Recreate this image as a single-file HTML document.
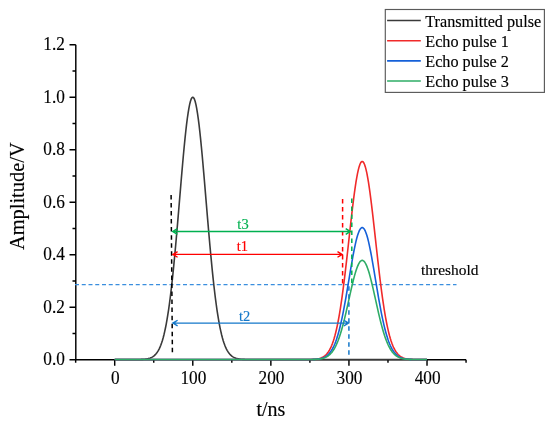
<!DOCTYPE html><html><head><meta charset="utf-8"><style>html,body{margin:0;padding:0;background:#fff;width:550px;height:423px;overflow:hidden}svg{display:block}text{stroke:#000;stroke-width:0.15px}</style></head><body><svg width="550" height="423" viewBox="0 0 550 423"><rect width="550" height="423" fill="#fff"/><path d="M75.8,44.75 L75.8,359.75 M75.1,359.75 L466.1,359.75 M69.50,359.75 L75.8,359.75 M72.50,333.50 L75.8,333.50 M69.50,307.25 L75.8,307.25 M72.50,281.00 L75.8,281.00 M69.50,254.75 L75.8,254.75 M72.50,228.50 L75.8,228.50 M69.50,202.25 L75.8,202.25 M72.50,176.00 L75.8,176.00 M69.50,149.75 L75.8,149.75 M72.50,123.50 L75.8,123.50 M69.50,97.25 L75.8,97.25 M72.50,71.00 L75.8,71.00 M69.50,44.75 L75.8,44.75 M75.66,359.75 L75.66,362.75 M114.70,359.75 L114.70,365.75 M153.74,359.75 L153.74,362.75 M192.78,359.75 L192.78,365.75 M231.82,359.75 L231.82,362.75 M270.86,359.75 L270.86,365.75 M309.90,359.75 L309.90,362.75 M348.94,359.75 L348.94,365.75 M387.98,359.75 L387.98,362.75 M427.02,359.75 L427.02,365.75 M466.06,359.75 L466.06,362.75" fill="none" stroke="#000" stroke-width="1.45"/><line x1="75" y1="284.65" x2="456.5" y2="284.65" stroke="#3a8ede" stroke-width="1.3" stroke-dasharray="4 2.75"/><path d="M114.70,359.55 L115.48,359.55 L116.26,359.55 L117.04,359.55 L117.82,359.55 L118.60,359.55 L119.38,359.55 L120.17,359.55 L120.95,359.55 L121.73,359.55 L122.51,359.55 L123.29,359.55 L124.07,359.55 L124.85,359.55 L125.63,359.55 L126.41,359.55 L127.19,359.55 L127.97,359.55 L128.75,359.55 L129.54,359.55 L130.32,359.55 L131.10,359.54 L131.88,359.54 L132.66,359.54 L133.44,359.54 L134.22,359.53 L135.00,359.53 L135.78,359.52 L136.56,359.52 L137.34,359.51 L138.12,359.50 L138.90,359.48 L139.69,359.46 L140.47,359.44 L141.25,359.41 L142.03,359.37 L142.81,359.33 L143.59,359.28 L144.37,359.21 L145.15,359.13 L145.93,359.03 L146.71,358.91 L147.49,358.77 L148.27,358.60 L149.06,358.40 L149.84,358.15 L150.62,357.86 L151.40,357.52 L152.18,357.11 L152.96,356.64 L153.74,356.08 L154.52,355.43 L155.30,354.68 L156.08,353.81 L156.86,352.81 L157.64,351.66 L158.42,350.34 L159.21,348.84 L159.99,347.15 L160.77,345.23 L161.55,343.08 L162.33,340.67 L163.11,337.98 L163.89,334.99 L164.67,331.68 L165.45,328.04 L166.23,324.04 L167.01,319.68 L167.79,314.94 L168.58,309.80 L169.36,304.26 L170.14,298.32 L170.92,291.97 L171.70,285.23 L172.48,278.09 L173.26,270.57 L174.04,262.70 L174.82,254.50 L175.60,245.99 L176.38,237.22 L177.16,228.23 L177.94,219.06 L178.73,209.78 L179.51,200.43 L180.29,191.08 L181.07,181.80 L181.85,172.65 L182.63,163.71 L183.41,155.05 L184.19,146.75 L184.97,138.88 L185.75,131.51 L186.53,124.70 L187.31,118.52 L188.10,113.04 L188.88,108.31 L189.66,104.36 L190.44,101.25 L191.22,99.01 L192.00,97.65 L192.78,97.20 L193.56,97.65 L194.34,99.01 L195.12,101.25 L195.90,104.36 L196.68,108.31 L197.46,113.04 L198.25,118.52 L199.03,124.70 L199.81,131.51 L200.59,138.88 L201.37,146.75 L202.15,155.05 L202.93,163.71 L203.71,172.65 L204.49,181.80 L205.27,191.08 L206.05,200.43 L206.83,209.78 L207.62,219.06 L208.40,228.23 L209.18,237.22 L209.96,245.99 L210.74,254.50 L211.52,262.70 L212.30,270.57 L213.08,278.09 L213.86,285.23 L214.64,291.97 L215.42,298.32 L216.20,304.26 L216.98,309.80 L217.77,314.94 L218.55,319.68 L219.33,324.04 L220.11,328.04 L220.89,331.68 L221.67,334.99 L222.45,337.98 L223.23,340.67 L224.01,343.08 L224.79,345.23 L225.57,347.15 L226.35,348.84 L227.14,350.34 L227.92,351.66 L228.70,352.81 L229.48,353.81 L230.26,354.68 L231.04,355.43 L231.82,356.08 L232.60,356.64 L233.38,357.11 L234.16,357.52 L234.94,357.86 L235.72,358.15 L236.50,358.40 L237.29,358.60 L238.07,358.77 L238.85,358.91 L239.63,359.03 L240.41,359.13 L241.19,359.21 L241.97,359.28 L242.75,359.33 L243.53,359.37 L244.31,359.41 L245.09,359.44 L245.87,359.46 L246.66,359.48 L247.44,359.50 L248.22,359.51 L249.00,359.52 L249.78,359.52 L250.56,359.53 L251.34,359.53 L252.12,359.54 L252.90,359.54 L253.68,359.54 L254.46,359.54 L255.24,359.55 L256.02,359.55 L256.81,359.55 L257.59,359.55 L258.37,359.55 L259.15,359.55 L259.93,359.55 L260.71,359.55 L261.49,359.55 L262.27,359.55 L263.05,359.55 L263.83,359.55 L264.61,359.55 L265.39,359.55 L266.18,359.55 L266.96,359.55 L267.74,359.55 L268.52,359.55 L269.30,359.55 L270.08,359.55 L270.86,359.55 L271.64,359.55 L272.42,359.55 L273.20,359.55 L273.98,359.55 L274.76,359.55 L275.54,359.55 L276.33,359.55 L277.11,359.55 L277.89,359.55 L278.67,359.55 L279.45,359.55 L280.23,359.55 L281.01,359.55 L281.79,359.55 L282.57,359.55 L283.35,359.55 L284.13,359.55 L284.91,359.55 L285.70,359.55 L286.48,359.55 L287.26,359.55 L288.04,359.55 L288.82,359.55 L289.60,359.55 L290.38,359.55 L291.16,359.55 L291.94,359.55 L292.72,359.55 L293.50,359.55 L294.28,359.55 L295.06,359.55 L295.85,359.55 L296.63,359.55 L297.41,359.55 L298.19,359.55 L298.97,359.55 L299.75,359.55 L300.53,359.55 L301.31,359.55 L302.09,359.55 L302.87,359.55 L303.65,359.55 L304.43,359.55 L305.22,359.55 L306.00,359.55 L306.78,359.55 L307.56,359.55 L308.34,359.55 L309.12,359.55 L309.90,359.55 L310.68,359.55 L311.46,359.55 L312.24,359.55 L313.02,359.55 L313.80,359.55 L314.58,359.55 L315.37,359.55 L316.15,359.55 L316.93,359.55 L317.71,359.55 L318.49,359.55 L319.27,359.55 L320.05,359.55 L320.83,359.55 L321.61,359.55 L322.39,359.55 L323.17,359.55 L323.95,359.55 L324.74,359.55 L325.52,359.55 L326.30,359.55 L327.08,359.55 L327.86,359.55 L328.64,359.55 L329.42,359.55 L330.20,359.55 L330.98,359.55 L331.76,359.55 L332.54,359.55 L333.32,359.55 L334.10,359.55 L334.89,359.55 L335.67,359.55 L336.45,359.55 L337.23,359.55 L338.01,359.55 L338.79,359.55 L339.57,359.55 L340.35,359.55 L341.13,359.55 L341.91,359.55 L342.69,359.55 L343.47,359.55 L344.26,359.55 L345.04,359.55 L345.82,359.55 L346.60,359.55 L347.38,359.55 L348.16,359.55 L348.94,359.55 L349.72,359.55 L350.50,359.55 L351.28,359.55 L352.06,359.55 L352.84,359.55 L353.62,359.55 L354.41,359.55 L355.19,359.55 L355.97,359.55 L356.75,359.55 L357.53,359.55 L358.31,359.55 L359.09,359.55 L359.87,359.55 L360.65,359.55 L361.43,359.55 L362.21,359.55 L362.99,359.55 L363.78,359.55 L364.56,359.55 L365.34,359.55 L366.12,359.55 L366.90,359.55 L367.68,359.55 L368.46,359.55 L369.24,359.55 L370.02,359.55 L370.80,359.55 L371.58,359.55 L372.36,359.55 L373.14,359.55 L373.93,359.55 L374.71,359.55 L375.49,359.55 L376.27,359.55 L377.05,359.55 L377.83,359.55 L378.61,359.55 L379.39,359.55 L380.17,359.55 L380.95,359.55 L381.73,359.55 L382.51,359.55 L383.30,359.55 L384.08,359.55 L384.86,359.55 L385.64,359.55 L386.42,359.55 L387.20,359.55 L387.98,359.55 L388.76,359.55 L389.54,359.55 L390.32,359.55 L391.10,359.55 L391.88,359.55 L392.66,359.55 L393.45,359.55 L394.23,359.55 L395.01,359.55 L395.79,359.55 L396.57,359.55 L397.35,359.55 L398.13,359.55 L398.91,359.55 L399.69,359.55 L400.47,359.55 L401.25,359.55 L402.03,359.55 L402.82,359.55 L403.60,359.55 L404.38,359.55 L405.16,359.55 L405.94,359.55 L406.72,359.55 L407.50,359.55 L408.28,359.55 L409.06,359.55 L409.84,359.55 L410.62,359.55 L411.40,359.55 L412.18,359.55 L412.97,359.55 L413.75,359.55 L414.53,359.55 L415.31,359.55 L416.09,359.55 L416.87,359.55 L417.65,359.55 L418.43,359.55 L419.21,359.55 L419.99,359.55 L420.77,359.55 L421.55,359.55 L422.34,359.55 L423.12,359.55 L423.90,359.55 L424.68,359.55 L425.46,359.55 L426.24,359.55 L427.02,359.55" fill="none" stroke="#3a3a3a" stroke-width="1.6" stroke-linejoin="round"/><path d="M114.70,359.55 L115.48,359.55 L116.26,359.55 L117.04,359.55 L117.82,359.55 L118.60,359.55 L119.38,359.55 L120.17,359.55 L120.95,359.55 L121.73,359.55 L122.51,359.55 L123.29,359.55 L124.07,359.55 L124.85,359.55 L125.63,359.55 L126.41,359.55 L127.19,359.55 L127.97,359.55 L128.75,359.55 L129.54,359.55 L130.32,359.55 L131.10,359.55 L131.88,359.55 L132.66,359.55 L133.44,359.55 L134.22,359.55 L135.00,359.55 L135.78,359.55 L136.56,359.55 L137.34,359.55 L138.12,359.55 L138.90,359.55 L139.69,359.55 L140.47,359.55 L141.25,359.55 L142.03,359.55 L142.81,359.55 L143.59,359.55 L144.37,359.55 L145.15,359.55 L145.93,359.55 L146.71,359.55 L147.49,359.55 L148.27,359.55 L149.06,359.55 L149.84,359.55 L150.62,359.55 L151.40,359.55 L152.18,359.55 L152.96,359.55 L153.74,359.55 L154.52,359.55 L155.30,359.55 L156.08,359.55 L156.86,359.55 L157.64,359.55 L158.42,359.55 L159.21,359.55 L159.99,359.55 L160.77,359.55 L161.55,359.55 L162.33,359.55 L163.11,359.55 L163.89,359.55 L164.67,359.55 L165.45,359.55 L166.23,359.55 L167.01,359.55 L167.79,359.55 L168.58,359.55 L169.36,359.55 L170.14,359.55 L170.92,359.55 L171.70,359.55 L172.48,359.55 L173.26,359.55 L174.04,359.55 L174.82,359.55 L175.60,359.55 L176.38,359.55 L177.16,359.55 L177.94,359.55 L178.73,359.55 L179.51,359.55 L180.29,359.55 L181.07,359.55 L181.85,359.55 L182.63,359.55 L183.41,359.55 L184.19,359.55 L184.97,359.55 L185.75,359.55 L186.53,359.55 L187.31,359.55 L188.10,359.55 L188.88,359.55 L189.66,359.55 L190.44,359.55 L191.22,359.55 L192.00,359.55 L192.78,359.55 L193.56,359.55 L194.34,359.55 L195.12,359.55 L195.90,359.55 L196.68,359.55 L197.46,359.55 L198.25,359.55 L199.03,359.55 L199.81,359.55 L200.59,359.55 L201.37,359.55 L202.15,359.55 L202.93,359.55 L203.71,359.55 L204.49,359.55 L205.27,359.55 L206.05,359.55 L206.83,359.55 L207.62,359.55 L208.40,359.55 L209.18,359.55 L209.96,359.55 L210.74,359.55 L211.52,359.55 L212.30,359.55 L213.08,359.55 L213.86,359.55 L214.64,359.55 L215.42,359.55 L216.20,359.55 L216.98,359.55 L217.77,359.55 L218.55,359.55 L219.33,359.55 L220.11,359.55 L220.89,359.55 L221.67,359.55 L222.45,359.55 L223.23,359.55 L224.01,359.55 L224.79,359.55 L225.57,359.55 L226.35,359.55 L227.14,359.55 L227.92,359.55 L228.70,359.55 L229.48,359.55 L230.26,359.55 L231.04,359.55 L231.82,359.55 L232.60,359.55 L233.38,359.55 L234.16,359.55 L234.94,359.55 L235.72,359.55 L236.50,359.55 L237.29,359.55 L238.07,359.55 L238.85,359.55 L239.63,359.55 L240.41,359.55 L241.19,359.55 L241.97,359.55 L242.75,359.55 L243.53,359.55 L244.31,359.55 L245.09,359.55 L245.87,359.55 L246.66,359.55 L247.44,359.55 L248.22,359.55 L249.00,359.55 L249.78,359.55 L250.56,359.55 L251.34,359.55 L252.12,359.55 L252.90,359.55 L253.68,359.55 L254.46,359.55 L255.24,359.55 L256.02,359.55 L256.81,359.55 L257.59,359.55 L258.37,359.55 L259.15,359.55 L259.93,359.55 L260.71,359.55 L261.49,359.55 L262.27,359.55 L263.05,359.55 L263.83,359.55 L264.61,359.55 L265.39,359.55 L266.18,359.55 L266.96,359.55 L267.74,359.55 L268.52,359.55 L269.30,359.55 L270.08,359.55 L270.86,359.55 L271.64,359.55 L272.42,359.55 L273.20,359.55 L273.98,359.55 L274.76,359.55 L275.54,359.55 L276.33,359.55 L277.11,359.55 L277.89,359.55 L278.67,359.55 L279.45,359.55 L280.23,359.55 L281.01,359.55 L281.79,359.55 L282.57,359.55 L283.35,359.55 L284.13,359.55 L284.91,359.55 L285.70,359.55 L286.48,359.55 L287.26,359.55 L288.04,359.55 L288.82,359.55 L289.60,359.55 L290.38,359.55 L291.16,359.55 L291.94,359.55 L292.72,359.55 L293.50,359.55 L294.28,359.55 L295.06,359.55 L295.85,359.55 L296.63,359.55 L297.41,359.55 L298.19,359.55 L298.97,359.55 L299.75,359.55 L300.53,359.55 L301.31,359.54 L302.09,359.54 L302.87,359.54 L303.65,359.54 L304.43,359.53 L305.22,359.53 L306.00,359.52 L306.78,359.52 L307.56,359.51 L308.34,359.50 L309.12,359.48 L309.90,359.47 L310.68,359.44 L311.46,359.42 L312.24,359.38 L313.02,359.34 L313.80,359.29 L314.58,359.23 L315.37,359.16 L316.15,359.07 L316.93,358.96 L317.71,358.83 L318.49,358.68 L319.27,358.49 L320.05,358.27 L320.83,358.01 L321.61,357.71 L322.39,357.35 L323.17,356.93 L323.95,356.44 L324.74,355.87 L325.52,355.21 L326.30,354.46 L327.08,353.59 L327.86,352.60 L328.64,351.47 L329.42,350.19 L330.20,348.74 L330.98,347.12 L331.76,345.29 L332.54,343.26 L333.32,341.01 L334.10,338.51 L334.89,335.76 L335.67,332.74 L336.45,329.45 L337.23,325.87 L338.01,321.99 L338.79,317.81 L339.57,313.32 L340.35,308.53 L341.13,303.44 L341.91,298.05 L342.69,292.37 L343.47,286.43 L344.26,280.24 L345.04,273.81 L345.82,267.19 L346.60,260.40 L347.38,253.48 L348.16,246.47 L348.94,239.41 L349.72,232.35 L350.50,225.34 L351.28,218.44 L352.06,211.69 L352.84,205.16 L353.62,198.89 L354.41,192.94 L355.19,187.38 L355.97,182.24 L356.75,177.58 L357.53,173.44 L358.31,169.86 L359.09,166.88 L359.87,164.54 L360.65,162.84 L361.43,161.82 L362.21,161.48 L362.99,161.82 L363.78,162.84 L364.56,164.54 L365.34,166.88 L366.12,169.86 L366.90,173.44 L367.68,177.58 L368.46,182.24 L369.24,187.38 L370.02,192.94 L370.80,198.89 L371.58,205.16 L372.36,211.69 L373.14,218.44 L373.93,225.34 L374.71,232.35 L375.49,239.41 L376.27,246.47 L377.05,253.48 L377.83,260.40 L378.61,267.19 L379.39,273.81 L380.17,280.24 L380.95,286.43 L381.73,292.37 L382.51,298.05 L383.30,303.44 L384.08,308.53 L384.86,313.32 L385.64,317.81 L386.42,321.99 L387.20,325.87 L387.98,329.45 L388.76,332.74 L389.54,335.76 L390.32,338.51 L391.10,341.01 L391.88,343.26 L392.66,345.29 L393.45,347.12 L394.23,348.74 L395.01,350.19 L395.79,351.47 L396.57,352.60 L397.35,353.59 L398.13,354.46 L398.91,355.21 L399.69,355.87 L400.47,356.44 L401.25,356.93 L402.03,357.35 L402.82,357.71 L403.60,358.01 L404.38,358.27 L405.16,358.49 L405.94,358.68 L406.72,358.83 L407.50,358.96 L408.28,359.07 L409.06,359.16 L409.84,359.23 L410.62,359.29 L411.40,359.34 L412.18,359.38 L412.97,359.42 L413.75,359.44 L414.53,359.47 L415.31,359.48 L416.09,359.50 L416.87,359.51 L417.65,359.52 L418.43,359.52 L419.21,359.53 L419.99,359.53 L420.77,359.54 L421.55,359.54 L422.34,359.54 L423.12,359.54 L423.90,359.55 L424.68,359.55 L425.46,359.55 L426.24,359.55 L427.02,359.55" fill="none" stroke="#f02a2a" stroke-width="1.6" stroke-linejoin="round"/><path d="M114.70,359.55 L115.48,359.55 L116.26,359.55 L117.04,359.55 L117.82,359.55 L118.60,359.55 L119.38,359.55 L120.17,359.55 L120.95,359.55 L121.73,359.55 L122.51,359.55 L123.29,359.55 L124.07,359.55 L124.85,359.55 L125.63,359.55 L126.41,359.55 L127.19,359.55 L127.97,359.55 L128.75,359.55 L129.54,359.55 L130.32,359.55 L131.10,359.55 L131.88,359.55 L132.66,359.55 L133.44,359.55 L134.22,359.55 L135.00,359.55 L135.78,359.55 L136.56,359.55 L137.34,359.55 L138.12,359.55 L138.90,359.55 L139.69,359.55 L140.47,359.55 L141.25,359.55 L142.03,359.55 L142.81,359.55 L143.59,359.55 L144.37,359.55 L145.15,359.55 L145.93,359.55 L146.71,359.55 L147.49,359.55 L148.27,359.55 L149.06,359.55 L149.84,359.55 L150.62,359.55 L151.40,359.55 L152.18,359.55 L152.96,359.55 L153.74,359.55 L154.52,359.55 L155.30,359.55 L156.08,359.55 L156.86,359.55 L157.64,359.55 L158.42,359.55 L159.21,359.55 L159.99,359.55 L160.77,359.55 L161.55,359.55 L162.33,359.55 L163.11,359.55 L163.89,359.55 L164.67,359.55 L165.45,359.55 L166.23,359.55 L167.01,359.55 L167.79,359.55 L168.58,359.55 L169.36,359.55 L170.14,359.55 L170.92,359.55 L171.70,359.55 L172.48,359.55 L173.26,359.55 L174.04,359.55 L174.82,359.55 L175.60,359.55 L176.38,359.55 L177.16,359.55 L177.94,359.55 L178.73,359.55 L179.51,359.55 L180.29,359.55 L181.07,359.55 L181.85,359.55 L182.63,359.55 L183.41,359.55 L184.19,359.55 L184.97,359.55 L185.75,359.55 L186.53,359.55 L187.31,359.55 L188.10,359.55 L188.88,359.55 L189.66,359.55 L190.44,359.55 L191.22,359.55 L192.00,359.55 L192.78,359.55 L193.56,359.55 L194.34,359.55 L195.12,359.55 L195.90,359.55 L196.68,359.55 L197.46,359.55 L198.25,359.55 L199.03,359.55 L199.81,359.55 L200.59,359.55 L201.37,359.55 L202.15,359.55 L202.93,359.55 L203.71,359.55 L204.49,359.55 L205.27,359.55 L206.05,359.55 L206.83,359.55 L207.62,359.55 L208.40,359.55 L209.18,359.55 L209.96,359.55 L210.74,359.55 L211.52,359.55 L212.30,359.55 L213.08,359.55 L213.86,359.55 L214.64,359.55 L215.42,359.55 L216.20,359.55 L216.98,359.55 L217.77,359.55 L218.55,359.55 L219.33,359.55 L220.11,359.55 L220.89,359.55 L221.67,359.55 L222.45,359.55 L223.23,359.55 L224.01,359.55 L224.79,359.55 L225.57,359.55 L226.35,359.55 L227.14,359.55 L227.92,359.55 L228.70,359.55 L229.48,359.55 L230.26,359.55 L231.04,359.55 L231.82,359.55 L232.60,359.55 L233.38,359.55 L234.16,359.55 L234.94,359.55 L235.72,359.55 L236.50,359.55 L237.29,359.55 L238.07,359.55 L238.85,359.55 L239.63,359.55 L240.41,359.55 L241.19,359.55 L241.97,359.55 L242.75,359.55 L243.53,359.55 L244.31,359.55 L245.09,359.55 L245.87,359.55 L246.66,359.55 L247.44,359.55 L248.22,359.55 L249.00,359.55 L249.78,359.55 L250.56,359.55 L251.34,359.55 L252.12,359.55 L252.90,359.55 L253.68,359.55 L254.46,359.55 L255.24,359.55 L256.02,359.55 L256.81,359.55 L257.59,359.55 L258.37,359.55 L259.15,359.55 L259.93,359.55 L260.71,359.55 L261.49,359.55 L262.27,359.55 L263.05,359.55 L263.83,359.55 L264.61,359.55 L265.39,359.55 L266.18,359.55 L266.96,359.55 L267.74,359.55 L268.52,359.55 L269.30,359.55 L270.08,359.55 L270.86,359.55 L271.64,359.55 L272.42,359.55 L273.20,359.55 L273.98,359.55 L274.76,359.55 L275.54,359.55 L276.33,359.55 L277.11,359.55 L277.89,359.55 L278.67,359.55 L279.45,359.55 L280.23,359.55 L281.01,359.55 L281.79,359.55 L282.57,359.55 L283.35,359.55 L284.13,359.55 L284.91,359.55 L285.70,359.55 L286.48,359.55 L287.26,359.55 L288.04,359.55 L288.82,359.55 L289.60,359.55 L290.38,359.55 L291.16,359.55 L291.94,359.55 L292.72,359.55 L293.50,359.55 L294.28,359.55 L295.06,359.55 L295.85,359.55 L296.63,359.55 L297.41,359.55 L298.19,359.55 L298.97,359.55 L299.75,359.55 L300.53,359.55 L301.31,359.55 L302.09,359.55 L302.87,359.54 L303.65,359.54 L304.43,359.54 L305.22,359.54 L306.00,359.53 L306.78,359.53 L307.56,359.52 L308.34,359.52 L309.12,359.51 L309.90,359.49 L310.68,359.48 L311.46,359.46 L312.24,359.44 L313.02,359.41 L313.80,359.38 L314.58,359.34 L315.37,359.29 L316.15,359.23 L316.93,359.16 L317.71,359.07 L318.49,358.97 L319.27,358.85 L320.05,358.70 L320.83,358.53 L321.61,358.32 L322.39,358.08 L323.17,357.80 L323.95,357.48 L324.74,357.10 L325.52,356.66 L326.30,356.16 L327.08,355.58 L327.86,354.92 L328.64,354.17 L329.42,353.31 L330.20,352.35 L330.98,351.27 L331.76,350.05 L332.54,348.70 L333.32,347.20 L334.10,345.53 L334.89,343.70 L335.67,341.69 L336.45,339.50 L337.23,337.11 L338.01,334.52 L338.79,331.74 L339.57,328.75 L340.35,325.56 L341.13,322.17 L341.91,318.57 L342.69,314.80 L343.47,310.84 L344.26,306.71 L345.04,302.43 L345.82,298.02 L346.60,293.50 L347.38,288.89 L348.16,284.21 L348.94,279.51 L349.72,274.81 L350.50,270.14 L351.28,265.54 L352.06,261.04 L352.84,256.69 L353.62,252.51 L354.41,248.55 L355.19,244.84 L355.97,241.42 L356.75,238.31 L357.53,235.56 L358.31,233.17 L359.09,231.19 L359.87,229.63 L360.65,228.50 L361.43,227.82 L362.21,227.59 L362.99,227.82 L363.78,228.50 L364.56,229.63 L365.34,231.19 L366.12,233.17 L366.90,235.56 L367.68,238.31 L368.46,241.42 L369.24,244.84 L370.02,248.55 L370.80,252.51 L371.58,256.69 L372.36,261.04 L373.14,265.54 L373.93,270.14 L374.71,274.81 L375.49,279.51 L376.27,284.21 L377.05,288.89 L377.83,293.50 L378.61,298.02 L379.39,302.43 L380.17,306.71 L380.95,310.84 L381.73,314.80 L382.51,318.57 L383.30,322.17 L384.08,325.56 L384.86,328.75 L385.64,331.74 L386.42,334.52 L387.20,337.11 L387.98,339.50 L388.76,341.69 L389.54,343.70 L390.32,345.53 L391.10,347.20 L391.88,348.70 L392.66,350.05 L393.45,351.27 L394.23,352.35 L395.01,353.31 L395.79,354.17 L396.57,354.92 L397.35,355.58 L398.13,356.16 L398.91,356.66 L399.69,357.10 L400.47,357.48 L401.25,357.80 L402.03,358.08 L402.82,358.32 L403.60,358.53 L404.38,358.70 L405.16,358.85 L405.94,358.97 L406.72,359.07 L407.50,359.16 L408.28,359.23 L409.06,359.29 L409.84,359.34 L410.62,359.38 L411.40,359.41 L412.18,359.44 L412.97,359.46 L413.75,359.48 L414.53,359.49 L415.31,359.51 L416.09,359.52 L416.87,359.52 L417.65,359.53 L418.43,359.53 L419.21,359.54 L419.99,359.54 L420.77,359.54 L421.55,359.54 L422.34,359.55 L423.12,359.55 L423.90,359.55 L424.68,359.55 L425.46,359.55 L426.24,359.55 L427.02,359.55" fill="none" stroke="#1560d8" stroke-width="1.6" stroke-linejoin="round"/><path d="M114.70,359.55 L115.48,359.55 L116.26,359.55 L117.04,359.55 L117.82,359.55 L118.60,359.55 L119.38,359.55 L120.17,359.55 L120.95,359.55 L121.73,359.55 L122.51,359.55 L123.29,359.55 L124.07,359.55 L124.85,359.55 L125.63,359.55 L126.41,359.55 L127.19,359.55 L127.97,359.55 L128.75,359.55 L129.54,359.55 L130.32,359.55 L131.10,359.55 L131.88,359.55 L132.66,359.55 L133.44,359.55 L134.22,359.55 L135.00,359.55 L135.78,359.55 L136.56,359.55 L137.34,359.55 L138.12,359.55 L138.90,359.55 L139.69,359.55 L140.47,359.55 L141.25,359.55 L142.03,359.55 L142.81,359.55 L143.59,359.55 L144.37,359.55 L145.15,359.55 L145.93,359.55 L146.71,359.55 L147.49,359.55 L148.27,359.55 L149.06,359.55 L149.84,359.55 L150.62,359.55 L151.40,359.55 L152.18,359.55 L152.96,359.55 L153.74,359.55 L154.52,359.55 L155.30,359.55 L156.08,359.55 L156.86,359.55 L157.64,359.55 L158.42,359.55 L159.21,359.55 L159.99,359.55 L160.77,359.55 L161.55,359.55 L162.33,359.55 L163.11,359.55 L163.89,359.55 L164.67,359.55 L165.45,359.55 L166.23,359.55 L167.01,359.55 L167.79,359.55 L168.58,359.55 L169.36,359.55 L170.14,359.55 L170.92,359.55 L171.70,359.55 L172.48,359.55 L173.26,359.55 L174.04,359.55 L174.82,359.55 L175.60,359.55 L176.38,359.55 L177.16,359.55 L177.94,359.55 L178.73,359.55 L179.51,359.55 L180.29,359.55 L181.07,359.55 L181.85,359.55 L182.63,359.55 L183.41,359.55 L184.19,359.55 L184.97,359.55 L185.75,359.55 L186.53,359.55 L187.31,359.55 L188.10,359.55 L188.88,359.55 L189.66,359.55 L190.44,359.55 L191.22,359.55 L192.00,359.55 L192.78,359.55 L193.56,359.55 L194.34,359.55 L195.12,359.55 L195.90,359.55 L196.68,359.55 L197.46,359.55 L198.25,359.55 L199.03,359.55 L199.81,359.55 L200.59,359.55 L201.37,359.55 L202.15,359.55 L202.93,359.55 L203.71,359.55 L204.49,359.55 L205.27,359.55 L206.05,359.55 L206.83,359.55 L207.62,359.55 L208.40,359.55 L209.18,359.55 L209.96,359.55 L210.74,359.55 L211.52,359.55 L212.30,359.55 L213.08,359.55 L213.86,359.55 L214.64,359.55 L215.42,359.55 L216.20,359.55 L216.98,359.55 L217.77,359.55 L218.55,359.55 L219.33,359.55 L220.11,359.55 L220.89,359.55 L221.67,359.55 L222.45,359.55 L223.23,359.55 L224.01,359.55 L224.79,359.55 L225.57,359.55 L226.35,359.55 L227.14,359.55 L227.92,359.55 L228.70,359.55 L229.48,359.55 L230.26,359.55 L231.04,359.55 L231.82,359.55 L232.60,359.55 L233.38,359.55 L234.16,359.55 L234.94,359.55 L235.72,359.55 L236.50,359.55 L237.29,359.55 L238.07,359.55 L238.85,359.55 L239.63,359.55 L240.41,359.55 L241.19,359.55 L241.97,359.55 L242.75,359.55 L243.53,359.55 L244.31,359.55 L245.09,359.55 L245.87,359.55 L246.66,359.55 L247.44,359.55 L248.22,359.55 L249.00,359.55 L249.78,359.55 L250.56,359.55 L251.34,359.55 L252.12,359.55 L252.90,359.55 L253.68,359.55 L254.46,359.55 L255.24,359.55 L256.02,359.55 L256.81,359.55 L257.59,359.55 L258.37,359.55 L259.15,359.55 L259.93,359.55 L260.71,359.55 L261.49,359.55 L262.27,359.55 L263.05,359.55 L263.83,359.55 L264.61,359.55 L265.39,359.55 L266.18,359.55 L266.96,359.55 L267.74,359.55 L268.52,359.55 L269.30,359.55 L270.08,359.55 L270.86,359.55 L271.64,359.55 L272.42,359.55 L273.20,359.55 L273.98,359.55 L274.76,359.55 L275.54,359.55 L276.33,359.55 L277.11,359.55 L277.89,359.55 L278.67,359.55 L279.45,359.55 L280.23,359.55 L281.01,359.55 L281.79,359.55 L282.57,359.55 L283.35,359.55 L284.13,359.55 L284.91,359.55 L285.70,359.55 L286.48,359.55 L287.26,359.55 L288.04,359.55 L288.82,359.55 L289.60,359.55 L290.38,359.55 L291.16,359.55 L291.94,359.55 L292.72,359.55 L293.50,359.55 L294.28,359.55 L295.06,359.55 L295.85,359.55 L296.63,359.55 L297.41,359.55 L298.19,359.55 L298.97,359.55 L299.75,359.55 L300.53,359.55 L301.31,359.55 L302.09,359.55 L302.87,359.55 L303.65,359.54 L304.43,359.54 L305.22,359.54 L306.00,359.54 L306.78,359.53 L307.56,359.53 L308.34,359.52 L309.12,359.52 L309.90,359.51 L310.68,359.50 L311.46,359.48 L312.24,359.47 L313.02,359.45 L313.80,359.42 L314.58,359.39 L315.37,359.35 L316.15,359.31 L316.93,359.26 L317.71,359.19 L318.49,359.11 L319.27,359.02 L320.05,358.91 L320.83,358.78 L321.61,358.63 L322.39,358.45 L323.17,358.24 L323.95,357.99 L324.74,357.71 L325.52,357.38 L326.30,357.00 L327.08,356.57 L327.86,356.07 L328.64,355.50 L329.42,354.86 L330.20,354.14 L330.98,353.32 L331.76,352.41 L332.54,351.40 L333.32,350.27 L334.10,349.02 L334.89,347.64 L335.67,346.13 L336.45,344.48 L337.23,342.69 L338.01,340.74 L338.79,338.65 L339.57,336.40 L340.35,334.01 L341.13,331.46 L341.91,328.76 L342.69,325.92 L343.47,322.94 L344.26,319.84 L345.04,316.63 L345.82,313.31 L346.60,309.91 L347.38,306.45 L348.16,302.94 L348.94,299.40 L349.72,295.87 L350.50,292.36 L351.28,288.90 L352.06,285.52 L352.84,282.25 L353.62,279.11 L354.41,276.14 L355.19,273.35 L355.97,270.78 L356.75,268.44 L357.53,266.37 L358.31,264.58 L359.09,263.09 L359.87,261.91 L360.65,261.07 L361.43,260.55 L362.21,260.38 L362.99,260.55 L363.78,261.07 L364.56,261.91 L365.34,263.09 L366.12,264.58 L366.90,266.37 L367.68,268.44 L368.46,270.78 L369.24,273.35 L370.02,276.14 L370.80,279.11 L371.58,282.25 L372.36,285.52 L373.14,288.90 L373.93,292.36 L374.71,295.87 L375.49,299.40 L376.27,302.94 L377.05,306.45 L377.83,309.91 L378.61,313.31 L379.39,316.63 L380.17,319.84 L380.95,322.94 L381.73,325.92 L382.51,328.76 L383.30,331.46 L384.08,334.01 L384.86,336.40 L385.64,338.65 L386.42,340.74 L387.20,342.69 L387.98,344.48 L388.76,346.13 L389.54,347.64 L390.32,349.02 L391.10,350.27 L391.88,351.40 L392.66,352.41 L393.45,353.32 L394.23,354.14 L395.01,354.86 L395.79,355.50 L396.57,356.07 L397.35,356.57 L398.13,357.00 L398.91,357.38 L399.69,357.71 L400.47,357.99 L401.25,358.24 L402.03,358.45 L402.82,358.63 L403.60,358.78 L404.38,358.91 L405.16,359.02 L405.94,359.11 L406.72,359.19 L407.50,359.26 L408.28,359.31 L409.06,359.35 L409.84,359.39 L410.62,359.42 L411.40,359.45 L412.18,359.47 L412.97,359.48 L413.75,359.50 L414.53,359.51 L415.31,359.52 L416.09,359.52 L416.87,359.53 L417.65,359.53 L418.43,359.54 L419.21,359.54 L419.99,359.54 L420.77,359.54 L421.55,359.55 L422.34,359.55 L423.12,359.55 L423.90,359.55 L424.68,359.55 L425.46,359.55 L426.24,359.55 L427.02,359.55" fill="none" stroke="#2eac66" stroke-width="1.6" stroke-linejoin="round"/><line x1="171.1" y1="194.9" x2="172.4" y2="353" stroke="#000" stroke-width="1.5" stroke-dasharray="4.5 3.55"/><line x1="342.6" y1="199" x2="342.6" y2="285" stroke="#ff0000" stroke-width="1.5" stroke-dasharray="4.5 3.5"/><line x1="351.8" y1="198.6" x2="351.8" y2="285" stroke="#00b050" stroke-width="1.5" stroke-dasharray="4.5 3.5"/><line x1="348.9" y1="286.2" x2="348.9" y2="355" stroke="#1478ca" stroke-width="1.5" stroke-dasharray="4.5 3.5"/><path d="M172.7,231.5 L350.4,231.5 M177.39999999999998,228.65 L172.7,231.5 L177.39999999999998,234.35 M345.7,228.65 L350.4,231.5 L345.7,234.35" fill="none" stroke="#00b050" stroke-width="1.4"/><path d="M172.9,254.4 L342.2,254.4 M177.6,251.55 L172.9,254.4 L177.6,257.25 M337.5,251.55 L342.2,254.4 L337.5,257.25" fill="none" stroke="#ff0000" stroke-width="1.4"/><path d="M172.9,323.1 L348.6,323.1 M177.6,320.25 L172.9,323.1 L177.6,325.95000000000005 M343.90000000000003,320.25 L348.6,323.1 L343.90000000000003,325.95000000000005" fill="none" stroke="#1478ca" stroke-width="1.4"/><text x="243" y="228.8" font-family="Liberation Serif, serif" font-size="14.5" fill="#00b050" style="stroke:#00b050" text-anchor="middle">t3</text><text x="242.3" y="250.7" font-family="Liberation Serif, serif" font-size="14.5" fill="#ff0000" style="stroke:#ff0000" text-anchor="middle">t1</text><text x="244.6" y="321.0" font-family="Liberation Serif, serif" font-size="14.5" fill="#1478ca" style="stroke:#1478ca" text-anchor="middle">t2</text><text x="421.1" y="274.7" font-family="Liberation Serif, serif" font-size="15.4">threshold</text><text transform="translate(64.9,365.35) scale(0.93,1)" font-family="Liberation Serif, serif" font-size="18.6" text-anchor="end">0.0</text><text transform="translate(64.9,312.85) scale(0.93,1)" font-family="Liberation Serif, serif" font-size="18.6" text-anchor="end">0.2</text><text transform="translate(64.9,260.35) scale(0.93,1)" font-family="Liberation Serif, serif" font-size="18.6" text-anchor="end">0.4</text><text transform="translate(64.9,207.85) scale(0.93,1)" font-family="Liberation Serif, serif" font-size="18.6" text-anchor="end">0.6</text><text transform="translate(64.9,155.35) scale(0.93,1)" font-family="Liberation Serif, serif" font-size="18.6" text-anchor="end">0.8</text><text transform="translate(64.9,102.85) scale(0.93,1)" font-family="Liberation Serif, serif" font-size="18.6" text-anchor="end">1.0</text><text transform="translate(64.9,50.35) scale(0.93,1)" font-family="Liberation Serif, serif" font-size="18.6" text-anchor="end">1.2</text><text transform="translate(115.30,384.0) scale(0.93,1)" font-family="Liberation Serif, serif" font-size="18.6" text-anchor="middle">0</text><text transform="translate(193.38,384.0) scale(0.93,1)" font-family="Liberation Serif, serif" font-size="18.6" text-anchor="middle">100</text><text transform="translate(271.46,384.0) scale(0.93,1)" font-family="Liberation Serif, serif" font-size="18.6" text-anchor="middle">200</text><text transform="translate(349.54,384.0) scale(0.93,1)" font-family="Liberation Serif, serif" font-size="18.6" text-anchor="middle">300</text><text transform="translate(427.62,384.0) scale(0.93,1)" font-family="Liberation Serif, serif" font-size="18.6" text-anchor="middle">400</text><text x="270.9" y="415.6" font-family="Liberation Serif, serif" font-size="20" text-anchor="middle">t/ns</text><text transform="translate(23.6,196.2) rotate(-90)" font-family="Liberation Serif, serif" font-size="20.4" text-anchor="middle">Amplitude/V</text><rect x="385.3" y="9.5" width="159.1" height="82.9" fill="#fff" stroke="#5a5a5a" stroke-width="1.15"/><line x1="387.1" y1="20.5" x2="420.8" y2="20.5" stroke="#3a3a3a" stroke-width="1.65"/><text x="425.3" y="26.8" font-family="Liberation Serif, serif" font-size="16.2">Transmitted pulse</text><line x1="387.1" y1="40.7" x2="420.8" y2="40.7" stroke="#f02a2a" stroke-width="1.65"/><text x="425.3" y="46.9" font-family="Liberation Serif, serif" font-size="16.2">Echo pulse 1</text><line x1="387.1" y1="60.9" x2="420.8" y2="60.9" stroke="#1560d8" stroke-width="1.65"/><text x="425.3" y="67.0" font-family="Liberation Serif, serif" font-size="16.2">Echo pulse 2</text><line x1="387.1" y1="81.0" x2="420.8" y2="81.0" stroke="#2eac66" stroke-width="1.65"/><text x="425.3" y="87.1" font-family="Liberation Serif, serif" font-size="16.2">Echo pulse 3</text></svg></body></html>
